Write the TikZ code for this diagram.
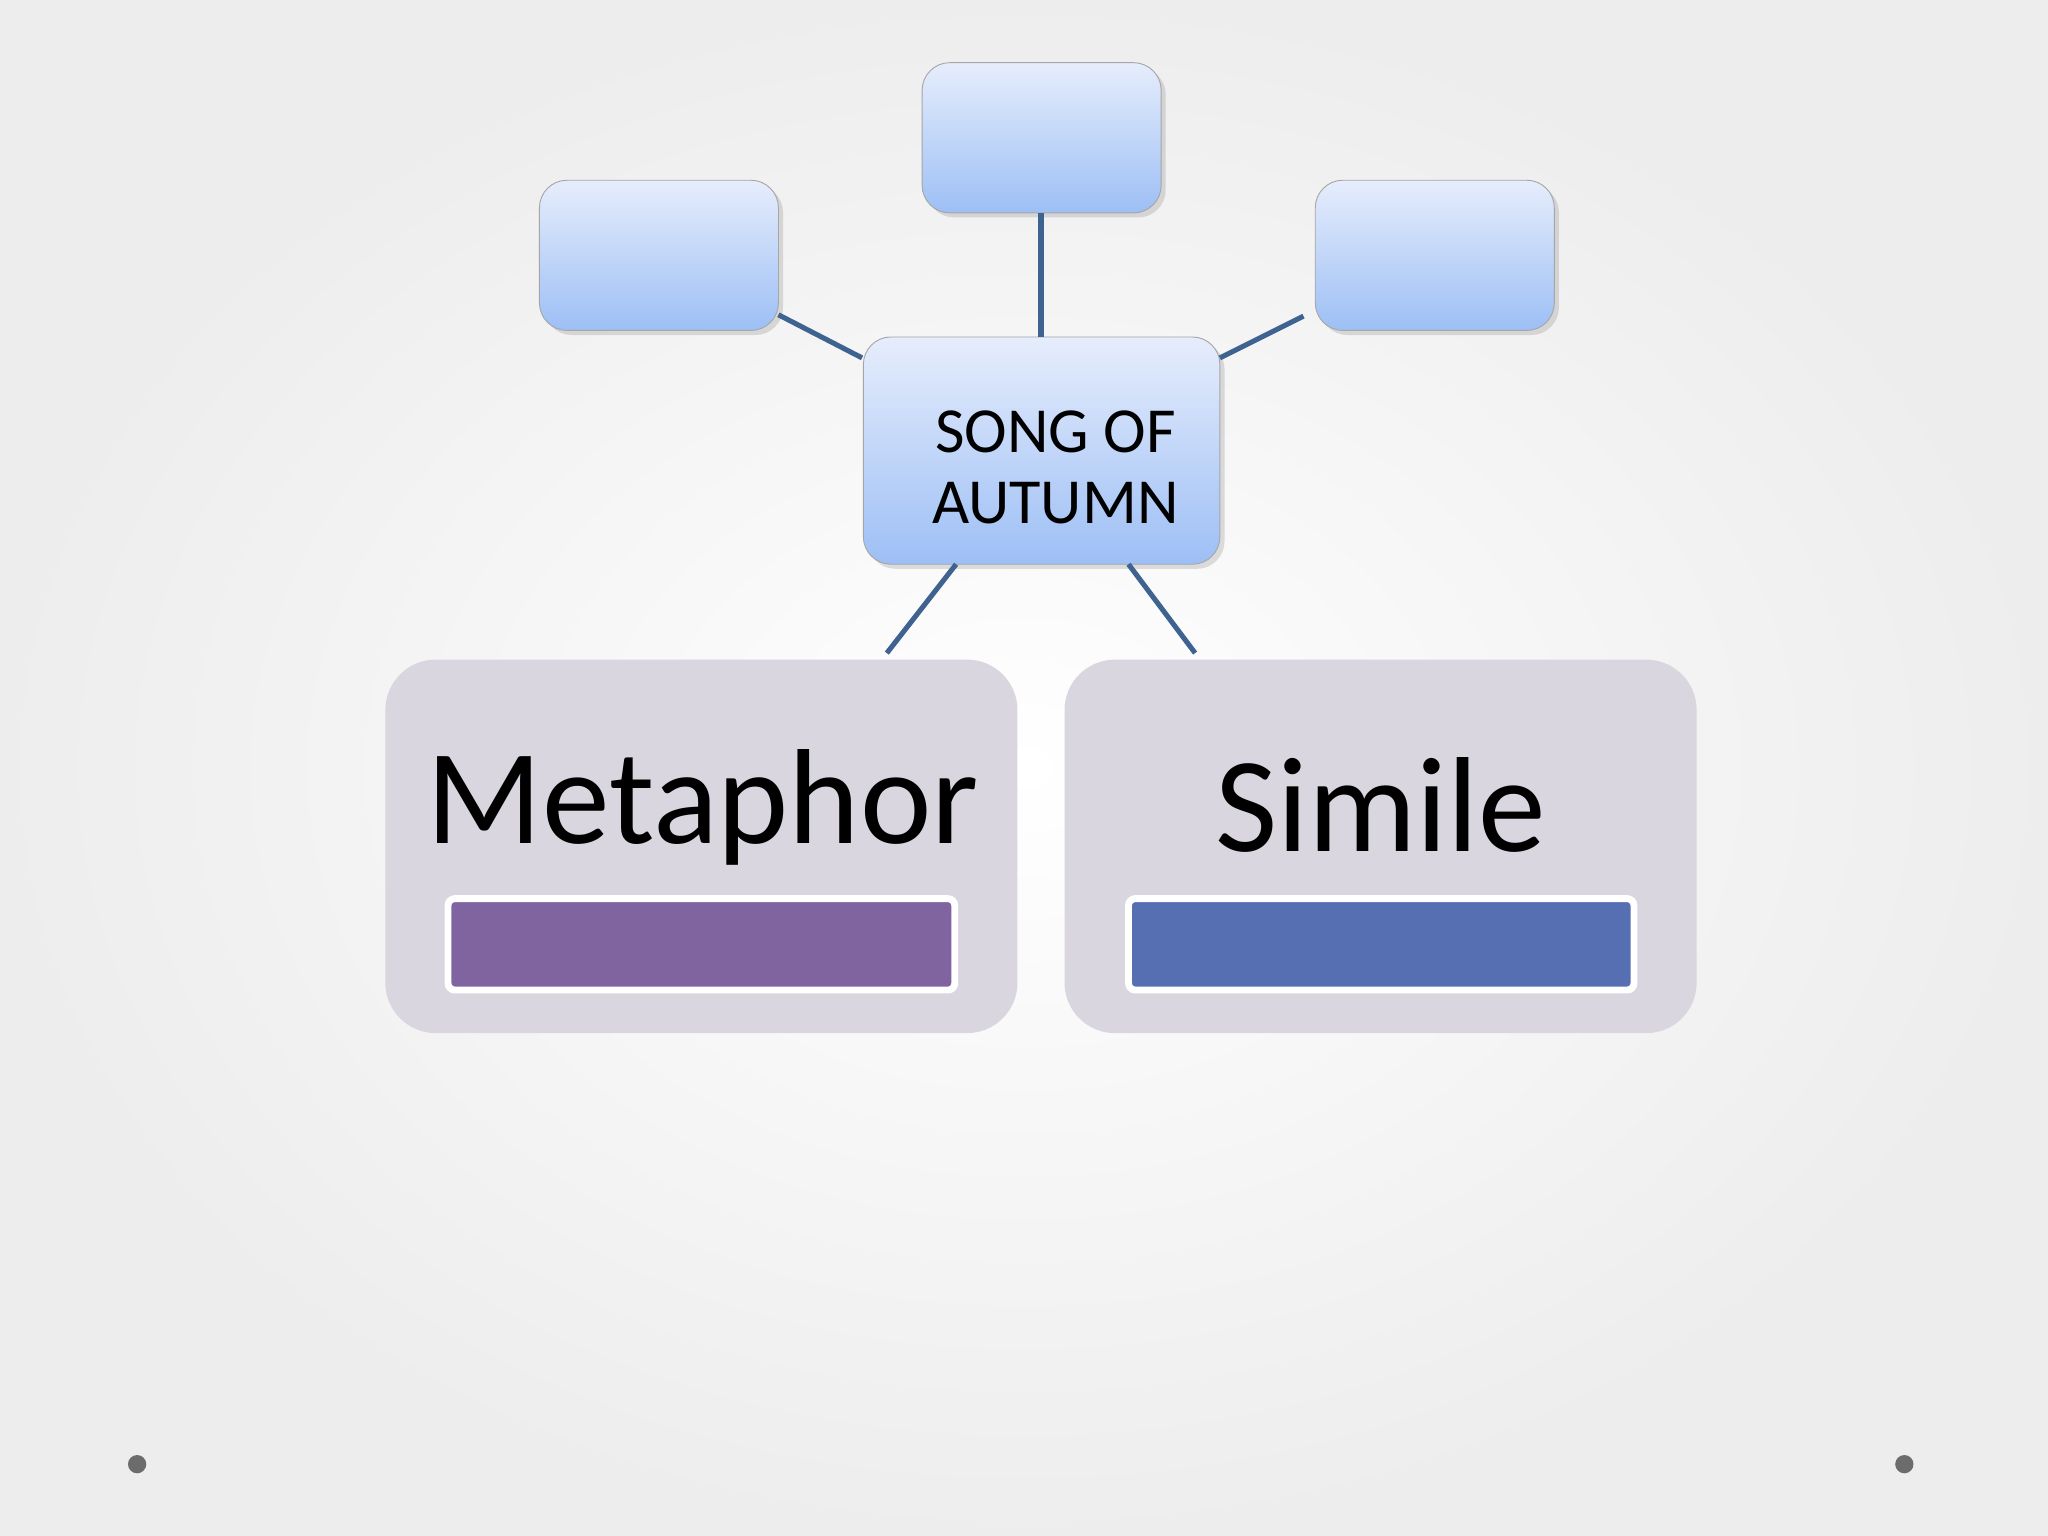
\documentclass[tikz,border=0pt]{standalone}
\usepackage{fontspec}
\setmainfont{Carlito}
\usetikzlibrary{shadows}
\definecolor{lnk}{HTML}{3F6391}
\definecolor{bigbg}{HTML}{D9D6E0}
\definecolor{barA}{HTML}{8064A0}
\definecolor{barB}{HTML}{566FB3}
\definecolor{btop}{HTML}{E6EDFC}
\definecolor{bbot}{HTML}{9DBFF5}
\tikzset{
  bluebox/.style={rounded corners=12, draw=gray!70, top color=btop, bottom color=bbot, drop shadow={opacity=0.25,shadow xshift=2pt,shadow yshift=-2pt}},
  link/.style={draw=lnk, line width=2.2pt},
  bigbox/.style={fill=bigbg, rounded corners=22},
  bar/.style={draw=white, line width=3pt, rounded corners=3}
}
\begin{document}
\begin{tikzpicture}[x=0.02cm,y=-0.02cm]
\shade[inner color=white, outer color=gray!14] (0,0) rectangle (1568,1176);
\useasboundingbox (0,0) rectangle (1568,1176);
\path[bluebox] (413,138) rectangle (596,253);
\path[bluebox] (706,48) rectangle (889,163);
\path[bluebox] (1007,138) rectangle (1190,253);
\path[bluebox] (661,258) rectangle (934,432);
\node[align=center, font=\fontsize{28}{31}\selectfont] (song) at (808,358) {SONG OF\\AUTUMN};
\coordinate (a1) at (596,241); \coordinate (a2) at (660,274);
\coordinate (b1) at (797,163); \coordinate (b2) at (797,258);
\coordinate (c1) at (934,274); \coordinate (c2) at (998,242);
\coordinate (d1) at (732,432); \coordinate (d2) at (679,500);
\coordinate (e1) at (864,432); \coordinate (e2) at (915,500);
\draw[link] (a1) -- (a2);
\draw[link] (b1) -- (b2);
\draw[link] (c1) -- (c2);
\draw[link] (d1) -- (d2);
\draw[link] (e1) -- (e2);
\path[bigbox] (295,505) rectangle (779,791);
\path[bigbox] (815,505) rectangle (1299,791);
\node[font=\fontsize{59}{64}\selectfont] (met) at (538,618) {Metaphor};
\node[font=\fontsize{59}{64}\selectfont] (sim) at (1057,616) {Simile};
\path[bar, fill=barA] (343,688) rectangle (731,758);
\path[bar, fill=barB] (864,688) rectangle (1251,758);
\fill[gray!85!black] (105,1121) circle (7);
\fill[gray!85!black] (1458,1121) circle (7);
\end{tikzpicture}
\end{document}
